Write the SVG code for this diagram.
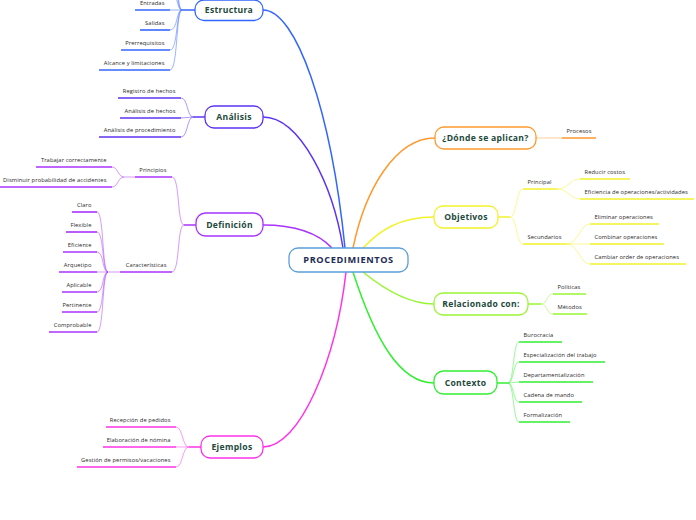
<svg xmlns="http://www.w3.org/2000/svg" width="696" height="520" viewBox="0 0 696 520">
<style>
.bg{fill:#ffffff}
.box{fill:#ffffff;stroke-width:1.3}
.mt{font-family:"Open Sans","Noto Sans",sans-serif;font-weight:bold;font-size:8.6px;fill:#1e4a3c;text-anchor:middle;letter-spacing:0.3px}
.ct{font-family:"Open Sans","Noto Sans",sans-serif;font-weight:bold;font-size:9.2px;fill:#1b2c52;text-anchor:middle;letter-spacing:0.6px}
.st{font-family:"Open Sans","Noto Sans",sans-serif;font-size:5.75px;fill:#2a2a2a;letter-spacing:0.1px}
.l{text-anchor:end}
.r{text-anchor:start}
.ul{fill:none;stroke-width:1.6;stroke-linecap:butt}
.mc{fill:none;stroke-width:1.5}
.sc{fill:none;stroke-width:0.9;stroke-opacity:0.55}
.blue{stroke:#3366ff}
.viol{stroke:#5c33f5}
.purp{stroke:#a833ff}
.mag{stroke:#ff33e6}
.ora{stroke:#ff9a2e}
.yel{stroke:#f2f22a}
.lgr{stroke:#99f533}
.grn{stroke:#33ee33}
</style>
<rect class="bg" x="0" y="0" width="696" height="520"/>

<g id="connectors">
  <!-- main connectors -->
  <path class="mc blue" d="M263,10 C296,10 331,110 345,248"/>
  <path class="mc viol" d="M263,117 C300,117 333,185 343,248"/>
  <path class="mc purp" d="M263,225 C295,225 318,233 332,248"/>
  <path class="mc mag" d="M346,272 C336,360 300,447 263,447"/>
  <path class="mc ora" d="M435,138 C395,138 365,190 353,248"/>
  <path class="mc yel" d="M434,217 C400,217 380,230 363,248"/>
  <path class="mc lgr" d="M363,272 C385,290 410,304 434,304"/>
  <path class="mc grn" d="M353,272 C375,340 400,383 434,383"/>

  <!-- Estructura -->
  <path class="mc blue" d="M195,10 L182,10"/>
  <path class="sc blue" d="M182,10 C176,10 178,-50 170,-50"/>
  <path class="sc blue" d="M182,10 C176,10 178,-30 170,-30"/>
  <path class="sc blue" d="M182,10 C176,10 178,-10 170,-10"/>
  <path class="sc blue" d="M182,10 L170,10"/>
  <path class="sc blue" d="M182,10 C176,10 178,30 170,30"/>
  <path class="sc blue" d="M182,10 C176,10 178,50 170,50"/>
  <path class="sc blue" d="M182,10 C176,10 178,70 170,70"/>

  <!-- Análisis -->
  <path class="mc viol" d="M205,117 L193,117"/>
  <path class="sc viol" d="M193,117 C187,117 188,98 181,98"/>
  <path class="sc viol" d="M193,117 L181,118"/>
  <path class="sc viol" d="M193,117 C187,117 188,137 181,137"/>

  <!-- Definición -->
  <path class="mc purp" d="M196,225 L184,225"/>
  <path class="sc purp" d="M184,225 C177,225 180,177 172,177"/>
  <path class="sc purp" d="M184,225 C177,225 180,272 172,272"/>
  <path class="sc purp" d="M135,177 L124,177 C118,177 118,167 112,167"/>
  <path class="sc purp" d="M124,177 C118,177 118,187 112,187"/>
  <path class="sc purp" d="M120,272 L108,272 C102,272 104,212 97,212"/>
  <path class="sc purp" d="M108,272 C102,272 104,232 97,232"/>
  <path class="sc purp" d="M108,272 C102,272 104,252 97,252"/>
  <path class="sc purp" d="M108,272 L97,272"/>
  <path class="sc purp" d="M108,272 C102,272 104,292 97,292"/>
  <path class="sc purp" d="M108,272 C102,272 104,312 97,312"/>
  <path class="sc purp" d="M108,272 C102,272 104,332 97,332"/>

  <!-- Ejemplos -->
  <path class="mc mag" d="M201,447 L189,447"/>
  <path class="sc mag" d="M189,447 C182,447 183,427 176,427"/>
  <path class="sc mag" d="M189,447 L176,447"/>
  <path class="sc mag" d="M189,447 C182,447 183,467 176,467"/>

  <!-- ¿Dónde se aplican? -->
  <path class="sc ora" d="M536,138 L562,138"/>

  <!-- Objetivos -->
  <path class="mc yel" d="M498,217 L510,217"/>
  <path class="sc yel" d="M510,217 C517,217 516,189 523,189"/>
  <path class="sc yel" d="M510,217 C517,217 516,244 523,244"/>
  <path class="sc yel" d="M557,189 C568,189 570,179 580,179"/>
  <path class="sc yel" d="M557,189 C568,189 570,199 580,199"/>
  <path class="sc yel" d="M567,244 C578,244 580,224 590,224"/>
  <path class="sc yel" d="M567,244 L590,244"/>
  <path class="sc yel" d="M567,244 C578,244 580,264 590,264"/>

  <!-- Relacionado con -->
  <path class="mc lgr" d="M528,304 L541,304"/>
  <path class="sc lgr" d="M541,304 C547,304 547,294 553,294"/>
  <path class="sc lgr" d="M541,304 C547,304 547,314 553,314"/>

  <!-- Contexto -->
  <path class="mc grn" d="M497,383 L508,383"/>
  <path class="sc grn" d="M508,383 C514,383 513,342 519,342"/>
  <path class="sc grn" d="M508,383 C514,383 513,362 519,362"/>
  <path class="sc grn" d="M508,383 L519,382"/>
  <path class="sc grn" d="M508,383 C514,383 513,402 519,402"/>
  <path class="sc grn" d="M508,383 C514,383 513,422 519,422"/>
</g>

<g id="central">
  <rect class="box" x="289" y="248" width="119" height="24" rx="9" stroke="#5a9fdc"/>
  <text class="ct" x="348.5" y="263.3">PROCEDIMIENTOS</text>
</g>

<g id="estructura">
  <rect class="box blue" x="195" y="0" width="68" height="20.5" rx="9"/>
  <text class="mt" x="229" y="13.2">Estructura</text>
  <line class="ul blue" x1="135" y1="10" x2="170" y2="10"/>
  <text class="st l" x="164.5" y="5">Entradas</text>
  <line class="ul blue" x1="140" y1="30" x2="170" y2="30"/>
  <text class="st l" x="164.5" y="25">Salidas</text>
  <line class="ul blue" x1="121" y1="50" x2="170" y2="50"/>
  <text class="st l" x="164.5" y="45">Prerrequisitos</text>
  <line class="ul blue" x1="99" y1="70" x2="170" y2="70"/>
  <text class="st l" x="164.5" y="65">Alcance y limitaciones</text>
</g>

<g id="analisis">
  <rect class="box viol" x="205" y="106" width="58" height="22" rx="9"/>
  <text class="mt" x="234" y="120">Análisis</text>
  <line class="ul viol" x1="118" y1="98" x2="181" y2="98"/>
  <text class="st l" x="175.5" y="93">Registro de hechos</text>
  <line class="ul viol" x1="120" y1="118" x2="181" y2="118"/>
  <text class="st l" x="175.5" y="113">Análisis de hechos</text>
  <line class="ul viol" x1="99" y1="137" x2="181" y2="137"/>
  <text class="st l" x="175.5" y="132">Análisis de procedimiento</text>
</g>

<g id="definicion">
  <rect class="box purp" x="196" y="213" width="67" height="23" rx="9.5"/>
  <text class="mt" x="229.5" y="228">Definición</text>
  <line class="ul purp" x1="135" y1="177" x2="172" y2="177"/>
  <text class="st l" x="166.5" y="172">Principios</text>
  <line class="ul purp" x1="120" y1="272" x2="172" y2="272"/>
  <text class="st l" x="166.5" y="267">Características</text>
  <line class="ul purp" x1="36" y1="167" x2="112" y2="167"/>
  <text class="st l" x="106.5" y="162">Trabajar correctamente</text>
  <line class="ul purp" x1="0" y1="187" x2="112" y2="187"/>
  <text class="st l" x="106.5" y="182">Disminuir probabilidad de accidentes</text>
  <line class="ul purp" x1="72" y1="212" x2="97" y2="212"/>
  <text class="st l" x="91.5" y="207">Claro</text>
  <line class="ul purp" x1="66" y1="232" x2="97" y2="232"/>
  <text class="st l" x="91.5" y="227">Flexible</text>
  <line class="ul purp" x1="63" y1="252" x2="97" y2="252"/>
  <text class="st l" x="91.5" y="247">Eficiente</text>
  <line class="ul purp" x1="59" y1="272" x2="97" y2="272"/>
  <text class="st l" x="91.5" y="267">Arquetipo</text>
  <line class="ul purp" x1="62" y1="292" x2="97" y2="292"/>
  <text class="st l" x="91.5" y="287">Aplicable</text>
  <line class="ul purp" x1="62" y1="312" x2="97" y2="312"/>
  <text class="st l" x="91.5" y="307">Pertinente</text>
  <line class="ul purp" x1="49" y1="332" x2="97" y2="332"/>
  <text class="st l" x="91.5" y="327">Comprobable</text>
</g>

<g id="ejemplos">
  <rect class="box mag" x="201" y="436" width="62" height="22" rx="9"/>
  <text class="mt" x="232" y="450">Ejemplos</text>
  <line class="ul mag" x1="106" y1="427" x2="176" y2="427"/>
  <text class="st l" x="170.5" y="422">Recepción de pedidos</text>
  <line class="ul mag" x1="103" y1="447" x2="176" y2="447"/>
  <text class="st l" x="170.5" y="442">Elaboración de nómina</text>
  <line class="ul mag" x1="77" y1="467" x2="176" y2="467"/>
  <text class="st l" x="170.5" y="462">Gestión de permisos/vacaciones</text>
</g>

<g id="donde">
  <rect class="box ora" x="435" y="127" width="101" height="22" rx="9"/>
  <text class="mt" x="485.5" y="141">¿Dónde se aplican?</text>
  <line class="ul ora" x1="562" y1="138" x2="596" y2="138"/>
  <text class="st r" x="566.5" y="133">Procesos</text>
</g>

<g id="objetivos">
  <rect class="box yel" x="434" y="206" width="64" height="22" rx="9"/>
  <text class="mt" x="466" y="220">Objetivos</text>
  <line class="ul yel" x1="523" y1="189" x2="557" y2="189"/>
  <text class="st r" x="527.5" y="184">Principal</text>
  <line class="ul yel" x1="523" y1="244" x2="567" y2="244"/>
  <text class="st r" x="527.5" y="239">Secundarios</text>
  <line class="ul yel" x1="580" y1="179" x2="630" y2="179"/>
  <text class="st r" x="584.5" y="174">Reducir costos</text>
  <line class="ul yel" x1="580" y1="199" x2="694" y2="199"/>
  <text class="st r" x="584.5" y="194">Eficiencia de operaciones/actividades</text>
  <line class="ul yel" x1="590" y1="224" x2="659" y2="224"/>
  <text class="st r" x="594.5" y="219">Eliminar operaciones</text>
  <line class="ul yel" x1="590" y1="244" x2="664" y2="244"/>
  <text class="st r" x="594.5" y="239">Combinar operaciones</text>
  <line class="ul yel" x1="590" y1="264" x2="686" y2="264"/>
  <text class="st r" x="594.5" y="259">Cambiar order de operaciones</text>
</g>

<g id="relacionado">
  <rect class="box lgr" x="434" y="293" width="94" height="22" rx="9"/>
  <text class="mt" x="481" y="307">Relacionado con:</text>
  <line class="ul lgr" x1="553" y1="294" x2="586" y2="294"/>
  <text class="st r" x="557.5" y="289">Políticas</text>
  <line class="ul lgr" x1="553" y1="314" x2="587" y2="314"/>
  <text class="st r" x="557.5" y="309">Métodos</text>
</g>

<g id="contexto">
  <rect class="box grn" x="434" y="371" width="63" height="23" rx="9.5"/>
  <text class="mt" x="465.5" y="386">Contexto</text>
  <line class="ul grn" x1="519" y1="342" x2="562" y2="342"/>
  <text class="st r" x="523.5" y="337">Burocracia</text>
  <line class="ul grn" x1="519" y1="362" x2="605" y2="362"/>
  <text class="st r" x="523.5" y="357">Especialización del trabajo</text>
  <line class="ul grn" x1="519" y1="382" x2="593" y2="382"/>
  <text class="st r" x="523.5" y="377">Departamentalización</text>
  <line class="ul grn" x1="519" y1="402" x2="582" y2="402"/>
  <text class="st r" x="523.5" y="397">Cadena de mando</text>
  <line class="ul grn" x1="519" y1="422" x2="570" y2="422"/>
  <text class="st r" x="523.5" y="417">Formalización</text>
</g>
</svg>
